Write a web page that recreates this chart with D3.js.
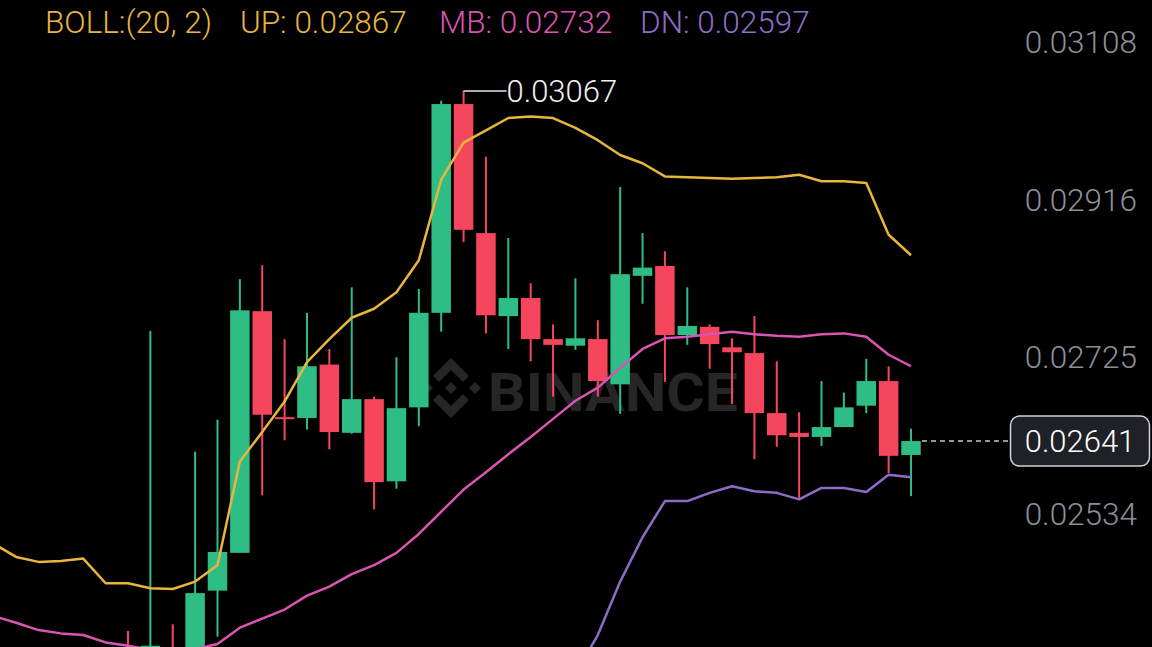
<!DOCTYPE html>
<html><head><meta charset="utf-8">
<script src="https://cdn.jsdelivr.net/npm/d3@7"></script>
<style>html,body{margin:0;padding:0;background:#000;overflow:hidden}svg{display:block}</style>
</head><body><svg id="c" width="1152" height="647"></svg>
<script>
// ---- data ----
const openP  = [0.02381,0.02369,0.02375,0.02350,0.02459,0.02505,0.02799,0.02670,0.02669,0.02734,0.02651,0.02692,0.02592,0.02682,0.02797,0.03051,0.02894,0.02793,0.02815,0.02765,0.02757,0.02765,0.02710,0.02842,0.02854,0.02770,0.02780,0.02755,0.02748,0.02675,0.02651,0.02646,0.02658,0.02684,0.02714,0.02624];
const highP  = [0.02410,0.02775,0.02418,0.02628,0.02667,0.02838,0.02855,0.02765,0.02797,0.02753,0.02828,0.02695,0.02743,0.02826,0.03055,0.03067,0.02987,0.02888,0.02833,0.02783,0.02839,0.02788,0.02950,0.02894,0.02872,0.02828,0.02783,0.02766,0.02793,0.02738,0.02676,0.02714,0.02700,0.02741,0.02732,0.02656];
const lowP   = [0.02338,0.02360,0.02326,0.02338,0.02403,0.02505,0.02575,0.02642,0.02655,0.02631,0.02650,0.02558,0.02583,0.02659,0.02774,0.02883,0.02772,0.02753,0.02738,0.02695,0.02752,0.02695,0.02674,0.02808,0.02713,0.02758,0.02729,0.02686,0.02619,0.02634,0.02571,0.02635,0.02658,0.02675,0.02602,0.02574];
const closeP = [0.02350,0.02392,0.02338,0.02456,0.02506,0.02800,0.02673,0.02668,0.02732,0.02652,0.02692,0.02591,0.02681,0.02797,0.03051,0.02898,0.02794,0.02815,0.02765,0.02758,0.02766,0.02714,0.02844,0.02852,0.02770,0.02781,0.02759,0.02749,0.02675,0.02648,0.02646,0.02658,0.02682,0.02714,0.02623,0.02641];

const bandStart = -6; // bands begin 6 bars before the first visible candle
const upperBand  = [0.02516,0.02500,0.02494,0.02495,0.02498,0.02468,0.02468,0.02462,0.02461,0.02470,0.02490,0.02616,0.02652,0.02689,0.02737,0.02765,0.02791,0.02802,0.02822,0.02861,0.02959,0.03004,0.03019,0.03034,0.03036,0.03034,0.03022,0.03007,0.02989,0.02979,0.02963,0.02962,0.02961,0.02960,0.02961,0.02962,0.02965,0.02957,0.02957,0.02955,0.02892,0.02867];
const middleBand = [0.02428,0.02420,0.02411,0.02407,0.02405,0.02396,0.02392,0.02387,0.02386,0.02388,0.02394,0.02414,0.02425,0.02436,0.02453,0.02464,0.02479,0.02490,0.02505,0.02528,0.02555,0.02582,0.02603,0.02625,0.02646,0.02668,0.02690,0.02706,0.02730,0.02753,0.02766,0.02768,0.02771,0.02774,0.02771,0.02769,0.02768,0.02771,0.02772,0.02768,0.02746,0.02732];
const lowerStart = 19;
const lowerBand  = [0.02302,0.02358,0.02405,0.02470,0.02524,0.02568,0.02568,0.02578,0.02586,0.02580,0.02578,0.02570,0.02584,0.02584,0.02579,0.02600,0.02597];

const axisTicks = [0.03108, 0.02916, 0.02725, 0.02534];
const lastPrice = 0.02641;
const maxHigh = 0.03067;
const headerLabels = ["BOLL:(20, 2)", "UP: 0.02867", "MB: 0.02732", "DN: 0.02597"];

// ---- styles ----
const GREEN = "#2ebd85", RED = "#f6465d";
const GOLD = "#e8b53e", PINK = "#d955b1", PURPLE = "#8c6dc6";
const FONT = "Roboto, 'Open Sans', sans-serif";

const svg = d3.select("#c");
svg.append("rect").attr("width",1152).attr("height",647).attr("fill","#000");

const x = d3.scaleLinear().domain([0, 35]).range([128, 911]);
const y = d3.scaleLinear().domain([0.02534, 0.03108]).range([529, 57.2]);

// watermark
const wm = svg.append("g").attr("fill","#262626");
const lg = wm.append("g").attr("transform","translate(451,388) scale(30)");
const polys = [
  [[0,-0.2],[0.2,0],[0,0.2],[-0.2,0]],
  [[-1,0],[-0.8,-0.2],[-0.6,0],[-0.8,0.2]],
  [[1,0],[0.8,-0.2],[0.6,0],[0.8,0.2]],
  [[0,-1],[0.6,-0.4],[0.4,-0.2],[0,-0.6],[-0.4,-0.2],[-0.6,-0.4]],
  [[0,1],[0.6,0.4],[0.4,0.2],[0,0.6],[-0.4,0.2],[-0.6,0.4]]
];
lg.selectAll("polygon").data(polys).join("polygon").attr("points", d => d.map(p => p.join(",")).join(" "));
wm.append("text").attr("x",488).attr("y",411).attr("font-family",FONT).attr("font-weight",700)
  .attr("font-size",54).attr("textLength",250).attr("lengthAdjust","spacingAndGlyphs").text("BINANCE");

// candles
const idx = d3.range(openP.length);
const bw = 19.5;
const cg = svg.append("g");
cg.selectAll("rect.wick").data(idx).join("rect").attr("class","wick")
  .attr("x", i => x(i) - 1).attr("width", 2)
  .attr("y", i => y(highP[i])).attr("height", i => Math.max(1, y(lowP[i]) - y(highP[i])))
  .attr("fill", i => closeP[i] >= openP[i] ? GREEN : RED);
cg.selectAll("rect.body").data(idx).join("rect").attr("class","body")
  .attr("x", i => x(i) - bw/2).attr("width", bw)
  .attr("y", i => y(Math.max(openP[i], closeP[i])))
  .attr("height", i => Math.max(2, Math.abs(y(openP[i]) - y(closeP[i]))))
  .attr("fill", i => closeP[i] >= openP[i] ? GREEN : RED);

// bands
function band(data, start, color){
  const line = d3.line().x((d,i) => x(i + start)).y(d => y(d));
  svg.append("path").attr("d", line(data)).attr("fill","none").attr("stroke",color)
    .attr("stroke-width",2.5).attr("stroke-linejoin","round");
}
band(upperBand, bandStart, GOLD);
band(middleBand, bandStart, PINK);
band(lowerBand, lowerStart, PURPLE);

// header
const hx = [45, 240, 439, 640];
const hc = [GOLD, GOLD, PINK, PURPLE];
svg.append("g").selectAll("text").data(headerLabels).join("text")
  .attr("x", (d,i) => hx[i]).attr("y", 33).attr("font-family", FONT).attr("font-weight", 300)
  .attr("font-size", 31.5).attr("fill", (d,i) => hc[i]).text(d => d);

// right axis
const ax = svg.append("g").attr("transform","translate(1137,0)")
  .call(d3.axisLeft(y).tickValues(axisTicks).tickSize(0).tickPadding(0).tickFormat(d3.format(".5f")));
ax.select(".domain").remove();
ax.selectAll("text").attr("dy", -5).attr("font-family", FONT).attr("font-weight", 300)
  .attr("font-size", 31.5).attr("fill", "#8b9098");

// max high annotation
const mi = highP.indexOf(maxHigh);
svg.append("line").attr("x1", x(mi)).attr("x2", x(mi) + 43).attr("y1", y(maxHigh)).attr("y2", y(maxHigh))
  .attr("stroke","#e6e6e6").attr("stroke-width",1.5);
svg.append("text").attr("x", x(mi) + 43).attr("y", y(maxHigh)).attr("dy","0.35em").attr("font-weight", 300)
  .attr("font-family",FONT).attr("font-size",31).attr("fill","#f0f0f0").text(d3.format(".5f")(maxHigh));

// last price
const ly = y(lastPrice);
svg.append("line").attr("x1", x(35) + 11).attr("x2", 1010).attr("y1", ly).attr("y2", ly)
  .attr("stroke","#c8c8c8").attr("stroke-width",1.5).attr("stroke-dasharray","5,4");
svg.append("rect").attr("x",1010.5).attr("y",ly-25).attr("width",139).attr("height",50).attr("rx",9)
  .attr("fill","#1e2126").attr("stroke","#d0d3d8").attr("stroke-width",1.5);
svg.append("text").attr("x",1080).attr("y",ly).attr("dy","0.35em").attr("text-anchor","middle").attr("font-weight", 300)
  .attr("font-family",FONT).attr("font-size",31).attr("fill","#ffffff").text(d3.format(".5f")(lastPrice));
</script></body></html>
